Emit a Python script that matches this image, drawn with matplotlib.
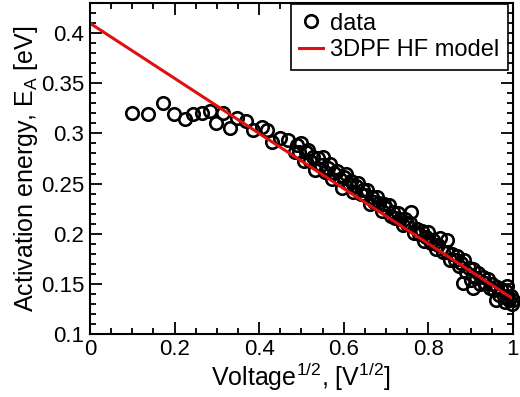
import matplotlib
matplotlib.use("Agg")
import matplotlib.pyplot as plt
from matplotlib.ticker import MultipleLocator

# measured activation energy vs sqrt(voltage)
data_x = [0.099, 0.138, 0.172, 0.199, 0.225, 0.244, 0.264, 0.284, 0.298, 0.315,
          0.331, 0.347, 0.370, 0.386, 0.406, 0.418, 0.430, 0.449, 0.469, 0.485,
          0.490, 0.495, 0.500, 0.505, 0.510, 0.515, 0.520, 0.527, 0.533, 0.540,
          0.545, 0.550, 0.556, 0.562, 0.568, 0.573, 0.578, 0.584, 0.590, 0.595,
          0.600, 0.606, 0.612, 0.617, 0.622, 0.628, 0.634, 0.640, 0.645, 0.650,
          0.656, 0.662, 0.667, 0.672, 0.678, 0.684, 0.690, 0.695, 0.700, 0.706,
          0.712, 0.717, 0.722, 0.728, 0.734, 0.740, 0.745, 0.750, 0.756, 0.760,
          0.767, 0.772, 0.778, 0.784, 0.790, 0.795, 0.800, 0.806, 0.812, 0.817,
          0.822, 0.828, 0.834, 0.843, 0.845, 0.850, 0.856, 0.862, 0.867, 0.872,
          0.878, 0.884, 0.890, 0.895, 0.900, 0.883, 0.906, 0.912, 0.917, 0.922,
          0.906, 0.928, 0.934, 0.940, 0.945, 0.950, 0.956, 0.962, 0.967, 0.961,
          0.972, 0.978, 0.984, 0.985, 0.990, 0.995, 1.000, 0.997, 0.980]
data_y = [0.320, 0.319, 0.330, 0.319, 0.314, 0.319, 0.320, 0.322, 0.310, 0.320,
          0.305, 0.315, 0.312, 0.303, 0.306, 0.303, 0.291, 0.295, 0.293, 0.281,
          0.288, 0.281, 0.290, 0.273, 0.281, 0.283, 0.273, 0.277, 0.264, 0.276,
          0.269, 0.277, 0.262, 0.266, 0.270, 0.255, 0.261, 0.263, 0.255, 0.246,
          0.257, 0.260, 0.250, 0.253, 0.242, 0.248, 0.251, 0.240, 0.244, 0.239,
          0.244, 0.230, 0.237, 0.232, 0.237, 0.231, 0.223, 0.230, 0.226, 0.229,
          0.218, 0.222, 0.216, 0.221, 0.215, 0.209, 0.215, 0.210, 0.211, 0.222,
          0.201, 0.205, 0.200, 0.203, 0.193, 0.197, 0.202, 0.191, 0.194, 0.185,
          0.189, 0.196, 0.182, 0.194, 0.182, 0.174, 0.180, 0.174, 0.178, 0.168,
          0.171, 0.174, 0.162, 0.166, 0.154, 0.151, 0.165, 0.156, 0.161, 0.150,
          0.146, 0.157, 0.151, 0.155, 0.146, 0.150, 0.144, 0.147, 0.139, 0.134,
          0.145, 0.138, 0.143, 0.148, 0.134, 0.138, 0.134, 0.130, 0.132]

# 3DPF HF model line
model_x = [0.0, 1.0]
model_y = [0.410, 0.135]

x_ticks = [0, 0.2, 0.4, 0.6, 0.8, 1.0]
x_ticklabels = ['0', '0.2', '0.4', '0.6', '0.8', '1']
y_ticks = [0.1, 0.15, 0.2, 0.25, 0.3, 0.35, 0.4]
y_ticklabels = ['0.1', '0.15', '0.2', '0.25', '0.3', '0.35', '0.4']

plt.rcParams['font.family'] = ['Liberation Sans', 'DejaVu Sans']
plt.rcParams['mathtext.default'] = 'regular'

fig = plt.figure(figsize=(5.2, 3.97), dpi=100)
ax = fig.add_axes([0.173, 0.159, 0.8135, 0.833])

ax.plot(data_x, data_y, 'o', markersize=9, markerfacecolor='none',
        markeredgecolor='black', markeredgewidth=1.9, clip_on=False, label='data')
ax.plot(model_x, model_y, '-', color='#e01010', linewidth=2.2, label='3DPF HF model')

ax.set_xlim(0, 1)
ax.set_ylim(0.1, 0.43)
ax.set_xticks(x_ticks)
ax.set_xticklabels(x_ticklabels)
ax.set_yticks(y_ticks)
ax.set_yticklabels(y_ticklabels)
ax.xaxis.set_minor_locator(MultipleLocator(0.05))
ax.yaxis.set_minor_locator(MultipleLocator(0.01))

ax.tick_params(which='both', direction='in', top=True, right=True,
               labelsize=16, width=1.3, pad=4)
ax.tick_params(which='major', length=8.5)
ax.tick_params(which='minor', length=4.3)
for s in ax.spines.values():
    s.set_linewidth(1.5)

ax.set_xlabel('Voltage$^{1/2}$, [V$^{1/2}$]', fontsize=18, labelpad=0)
ax.set_ylabel('Activation energy, E$_A$ [eV]', fontsize=18, labelpad=1)

leg = ax.legend(loc='upper right', bbox_to_anchor=(0.99, 1.0), fontsize=17,
                frameon=True, fancybox=False, borderaxespad=0.05,
                handlelength=1.0, handletextpad=0.3, borderpad=0.35,
                labelspacing=0.2)
leg.get_frame().set_edgecolor('black')
leg.get_frame().set_linewidth(1.2)
leg.get_frame().set_alpha(1)

fig.savefig('out.png', dpi=100)
